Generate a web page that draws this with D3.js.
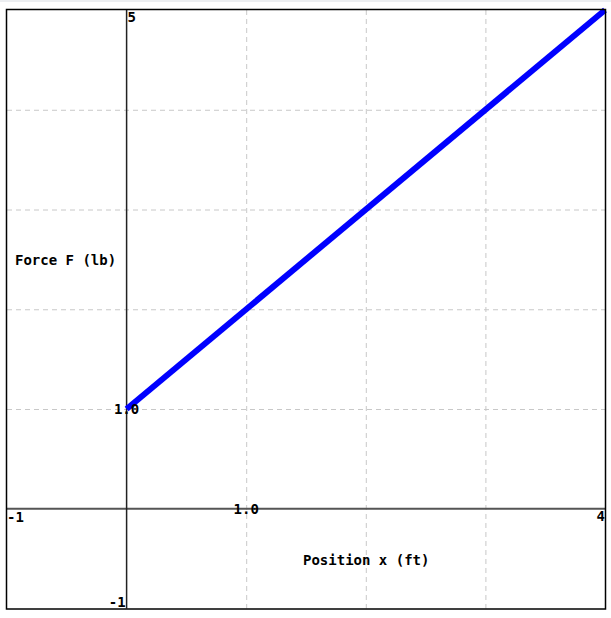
<!DOCTYPE html>
<html>
<head>
<meta charset="utf-8">
<script src="https://cdn.jsdelivr.net/npm/d3@7"></script>
<style>
  html, body { margin: 0; padding: 0; background: #fff; }
  svg { display: block; }
  text { font-family: "DejaVu Sans Mono", monospace; font-weight: bold; font-size: 14px; fill: #000; }
</style>
</head>
<body>
<svg width="611" height="618"></svg>
<script>
// data
const xDomain = [-1, 4];
const yDomain = [-1, 5];
const xGrid = [1, 2, 3];
const yGrid = [1, 2, 3, 4];
const lineX = [0, 4];
const lineY = [1, 5];

const svg = d3.select('svg');

// thin grey strip at the very top of the window
svg.append('rect')
  .attr('x', 0).attr('y', 0)
  .attr('width', 611).attr('height', 2)
  .attr('fill', '#eceef1');

// scales, plot box from (7,10) to (605,608)
const xScale = d3.scaleLinear().domain(xDomain).range([7, 605]);
const yScale = d3.scaleLinear().domain(yDomain).range([608.5, 10]);

// dashed grid
const xGridAxis = d3.axisBottom(xScale)
  .tickValues(xGrid)
  .tickSize(yScale(yDomain[0]) - yScale(yDomain[1]))
  .tickFormat('');
svg.append('g')
  .attr('transform', `translate(0, ${yScale(yDomain[1])})`)
  .call(xGridAxis)
  .call(g => g.select('.domain').remove())
  .call(g => g.selectAll('line')
    .attr('stroke', '#c8c8c8')
    .attr('stroke-dasharray', '5,4'));

const yGridAxis = d3.axisRight(yScale)
  .tickValues(yGrid)
  .tickSize(xScale(xDomain[1]) - xScale(xDomain[0]))
  .tickFormat('');
svg.append('g')
  .attr('transform', `translate(${xScale(xDomain[0])}, 0)`)
  .call(yGridAxis)
  .call(g => g.select('.domain').remove())
  .call(g => g.selectAll('line')
    .attr('stroke', '#c8c8c8')
    .attr('stroke-dasharray', '5,4'));

// main axes through zero
svg.append('line')
  .attr('x1', xScale(xDomain[0])).attr('x2', xScale(xDomain[1]))
  .attr('y1', yScale(0)).attr('y2', yScale(0))
  .attr('stroke', '#555')
  .attr('stroke-width', 2);

svg.append('line')
  .attr('x1', xScale(0)).attr('x2', xScale(0))
  .attr('y1', yScale(yDomain[0])).attr('y2', yScale(yDomain[1]))
  .attr('stroke', '#222')
  .attr('stroke-width', 1.5);

// the force line
const line = d3.line()
  .x(d => xScale(d[0]))
  .y(d => yScale(d[1]));
svg.append('path')
  .attr('d', line(d3.zip(lineX, lineY)))
  .attr('fill', 'none')
  .attr('stroke', '#0000ff')
  .attr('stroke-width', 6);

// plot border
svg.append('rect')
  .attr('x', xScale(xDomain[0]) - 0.5)
  .attr('y', yScale(yDomain[1]) - 0.5)
  .attr('width', xScale(xDomain[1]) - xScale(xDomain[0]) + 1)
  .attr('height', yScale(yDomain[0]) - yScale(yDomain[1]) + 1)
  .attr('fill', 'none')
  .attr('stroke', '#000')
  .attr('stroke-width', 1.5);

// tick labels
svg.append('text')
  .text(yDomain[1])
  .attr('x', xScale(0) + 1)
  .attr('y', yScale(yDomain[1]) + 12);

svg.append('text')
  .text(d3.format('.1f')(yGrid[0]))
  .attr('x', xScale(0))
  .attr('y', yScale(yGrid[0]) + 5)
  .attr('text-anchor', 'middle');

svg.append('text')
  .text(yDomain[0])
  .attr('x', xScale(0) - 1)
  .attr('y', yScale(yDomain[0]) - 2)
  .attr('text-anchor', 'end');

svg.append('text')
  .text(xDomain[0])
  .attr('x', xScale(xDomain[0]))
  .attr('y', yScale(0) + 13);

svg.append('text')
  .text(d3.format('.1f')(xGrid[0]))
  .attr('x', xScale(xGrid[0]))
  .attr('y', yScale(0) + 5)
  .attr('text-anchor', 'middle');

svg.append('text')
  .text(xDomain[1])
  .attr('x', xScale(xDomain[1]))
  .attr('y', yScale(0) + 12)
  .attr('text-anchor', 'end');

// axis titles
svg.append('text')
  .text('Force F (lb)')
  .attr('x', 15)
  .attr('y', 265);

svg.append('text')
  .text('Position x (ft)')
  .attr('x', 303)
  .attr('y', 565);
</script>
</body>
</html>
